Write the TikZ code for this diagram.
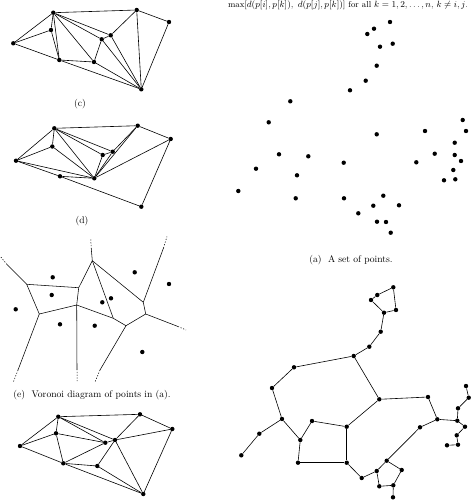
\documentclass[tikz,border=0pt]{standalone}
\usetikzlibrary{calc}
\begin{document}
\begin{tikzpicture}[x=1pt,y=-1pt,
  dot/.style={circle,fill=black,inner sep=0pt,minimum size=4.4pt},
  ln/.style={line width=0.6pt},
  vln/.style={line width=0.55pt},
  vdotted/.style={line width=0.55pt,dash pattern=on 1.2pt off 1.6pt},
  captxt/.style={font=\fontsize{9.6}{10}\selectfont,inner sep=0pt}]
\useasboundingbox (0,0) rectangle (474,500);
\node[captxt,anchor=north,font=\fontsize{8.6}{10}\selectfont] (toptext) at (348,1) {max[$d(p[i],p[k]),\ d(p[j],p[k])$] for all $k = 1, 2, \ldots, n$, $k \neq i, j$.};
% ---------- panel (c)
\foreach \n/\x/\y in {A/13.3/43.3,B/53.3/12.7,C/51/30,D/59.3/60,E/94/62,F/101.7/39.3,G/110.7/35.3,H/136.7/10,I/141.3/89.3,J/169/22}
  \node[dot] (c\n) at (\x,\y) {};
\foreach \a/\b in {A/B,A/C,A/D,B/C,B/D,C/D,B/E,B/F,B/G,B/H,D/E,D/I,E/F,E/I,F/G,F/I,G/I,G/H,H/I,H/J,I/J}
  \draw[ln] (c\a) -- (c\b);
\node[captxt] (capc) at (80,104) {(c)};
% ---------- panel (d)
\foreach \n/\x/\y in {A/16/160.7,B/54.3/128.3,C/52.3/146.5,D/60/176.3,E/94.3/178.3,F/102.7/155,G/112.7/151.7,H/137.7/125.7,I/141.3/206.7,J/170.7/139}
  \node[dot] (d\n) at (\x,\y) {};
\foreach \a/\b in {A/B,A/C,A/D,A/E,B/C,C/E,B/E,B/F,B/G,B/H,D/E,D/I,E/F,E/G,E/H,E/J,F/G,G/H,H/J,I/J}
  \draw[ln] (d\a) -- (d\b);
\node[captxt] (capd) at (82,221) {(d)};
% ---------- panel (e) Voronoi
\foreach \n/\x/\y in {B/52.7/277.3,C/51.7/295,A/15.7/309.3,D/60/324.3,E/94.7/325.7,F/102.3/302.3,G/111/298.3,H/134.7/272.3,J/169/284,I/142.3/352}
  \node[dot] (e\n) at (\x,\y) {};
\coordinate (v1) at (26.7,284.3);
\coordinate (v2) at (78.7,287.7);
\coordinate (v3) at (92.3,260.7);
\coordinate (v4) at (39.3,314);
\coordinate (v5) at (76.7,305);
\coordinate (v6) at (113.3,318.3);
\coordinate (v7) at (143.3,302.3);
\coordinate (v8) at (145.7,314);
\coordinate (v9) at (126,325.7);
\foreach \a/\b in {v1/v2,v1/v4,v2/v3,v2/v5,v3/v7,v3/v6,v4/v5,v5/v6,v6/v9,v7/v8,v8/v9}
  \draw[vln] (\a) -- (\b);
% unbounded edges: solid part, then dotted tail
\coordinate (o1a) at (7,264.5);   \coordinate (o1b) at (0,256);
\coordinate (o3a) at (91.3,249);  \coordinate (o3b) at (90.7,238);
\coordinate (o7a) at (163.5,248); \coordinate (o7b) at (167,236.5);
\coordinate (o8a) at (178,326.5); \coordinate (o8b) at (186,330);
\coordinate (o4a) at (18,370);    \coordinate (o4b) at (13,383);
\coordinate (o5a) at (77,369);    \coordinate (o5b) at (77.2,381);
\coordinate (o9a) at (100,370);   \coordinate (o9b) at (95,382);
\foreach \v/\o in {v1/o1,v3/o3,v7/o7,v8/o8,v4/o4,v5/o5,v9/o9}{
  \draw[vln] (\v) -- (\o a);
  \draw[vdotted] (\o a) -- (\o b);
}
\node[captxt] (cape) at (92,395) {(e)\ \ Voronoi diagram of points in (a).};
% ---------- last left panel
\foreach \n/\x/\y in {A/20/446,B/58.3/416.7,C/56/433.3,D/63.3/463.3,E/97.3/466,F/105.3/442.7,G/115/440,H/140/414.3,I/143.3/494,J/172.3/429}
  \node[dot] (f\n) at (\x,\y) {};
\foreach \a/\b in {A/B,A/C,A/D,B/C,C/D,B/H,B/F,B/G,C/F,D/F,D/E,D/I,E/I,E/G,F/G,G/H,G/J,G/I,H/J,I/J}
  \draw[ln] (f\a) -- (f\b);
% ---------- panel (a) points
\foreach \x/\y [count=\i] in {390/22,374/28.7,367.3/34,380/46.7,392.7/43.7,376.7/65.7,365.7/80.7,350/90.3,290.3/101.3,268.7/122.3,376.7/134.3,425/131,462.7/120,466/131,454.7/142.7,434.7/153.7,454.7/155,461/161,453.3/170,444/180.3,455.3/179.3,416.3/162.3,343.7/162.7,308.3/156.3,279/154.3,256/168.7,297/175.3,238.3/191,295.7/198.3,344/198.3,383.3/195.7,373.3/205.7,399/205.3,358.3/213.3,377/221.7,386/222,390.7/232.7}
  \node[dot] (a\i) at (\x,\y) {};
\node[captxt] (capa) at (351,260) {(a)\ \ A set of points.};
% ---------- graph panel
\foreach \x/\y [count=\i] in {377.3/295,393.3/287.3,371/300,396/310,384/312.7,380.7/331.7,369.3/346.7,353.7/356,294/367.3,272/388,379.3/399.3,428/397,282/419,259.3/433.7,241.3/455.3,312/421,346.7/426.7,300.3/440,298/462.7,346.7/462.7,361.7/478,376.7/471,386.7/460.7,401.7/470,393.3/485.3,379.3/486.3,393/497.3,420/427.3,437.3/419.3,457.3/420.7,465/426.7,456.7/435.3,458/444.7,447/445.3,458/408.3,468.7/397.7,466/386}
  \node[dot] (g\i) at (\x,\y) {};
\foreach \a/\b in {3/1,1/2,2/4,4/5,5/3,5/6,6/7,7/8,8/9,8/11,9/10,10/13,13/14,14/15,13/18,18/16,16/17,17/11,11/12,12/29,29/30,29/28,28/23,17/20,18/19,19/20,20/21,21/22,22/23,23/24,24/25,25/26,26/22,25/27,30/31,30/35,35/36,36/37,31/32,32/33,33/34}
  \draw[ln] (g\a) -- (g\b);
\end{tikzpicture}
\end{document}
